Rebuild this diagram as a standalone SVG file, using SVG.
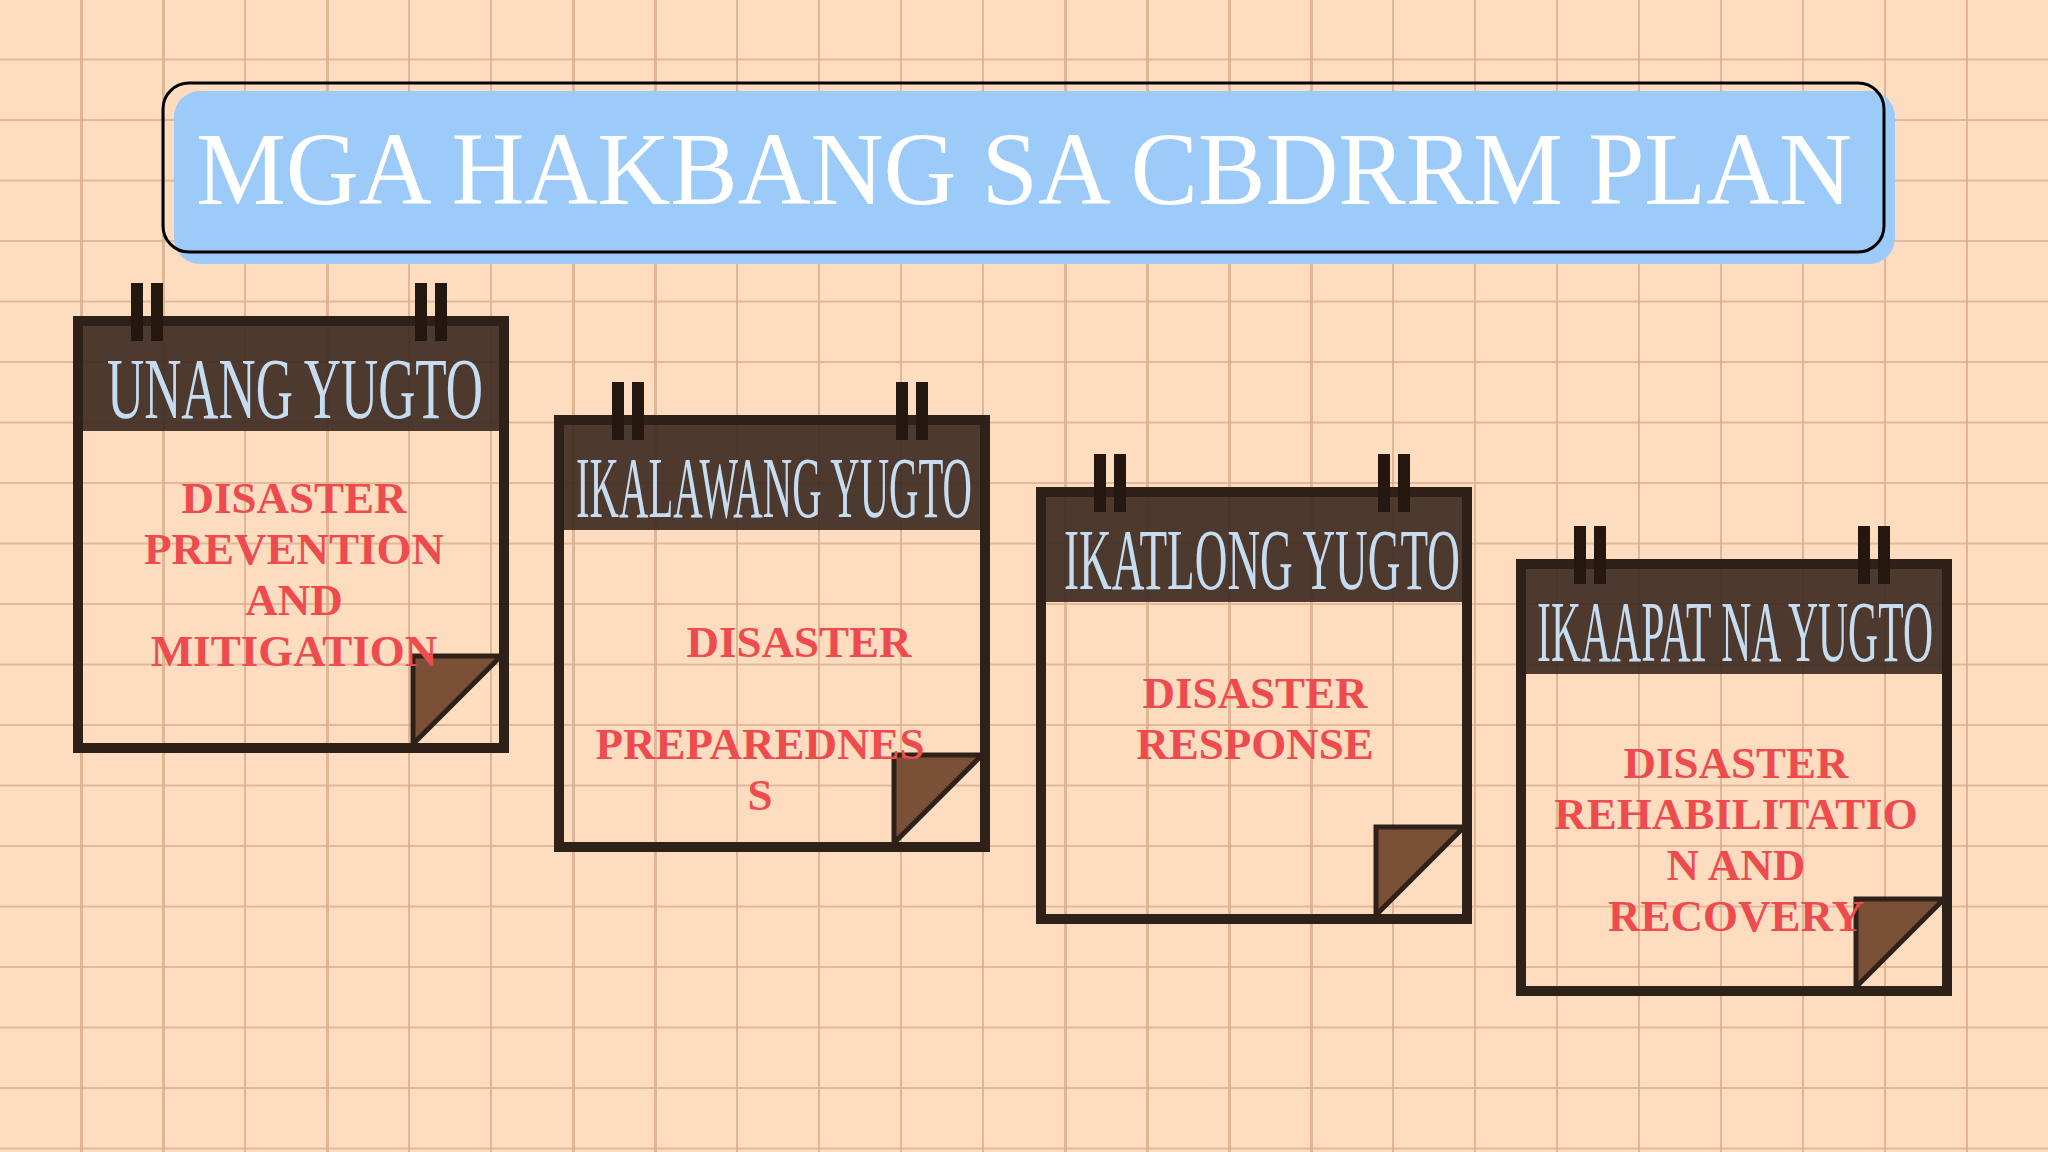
<svg xmlns="http://www.w3.org/2000/svg" width="2048" height="1152" viewBox="0 0 2048 1152">
<defs>
<pattern id="grid" x="0" y="0" width="82" height="60.5" patternUnits="userSpaceOnUse">
<path d="M81 0V60.5M0 59.5H82" stroke="#d9ad8c" stroke-width="1.6" fill="none"/>
</pattern>
<g id="card">
<rect x="5" y="5" width="426" height="110" fill="#3f2c22" fill-opacity="0.93"/>
<rect x="5" y="5" width="426" height="427" fill="none" stroke="#2e211a" stroke-width="10"/>
<rect x="58" y="-33" width="12" height="58" fill="#23170f"/>
<rect x="78" y="-33" width="12" height="58" fill="#23170f"/>
<rect x="342" y="-33" width="12" height="58" fill="#23170f"/>
<rect x="362" y="-33" width="12" height="58" fill="#23170f"/>
<polygon points="340,340 428,340 340,428" fill="#7a5036"/>
<path d="M340,428 V340 H428 M428,340 L340,428" stroke="#2e211a" stroke-width="5" fill="none"/>
</g>
</defs>
<style>
.hd{font-family:"Liberation Serif",serif;font-size:86px;fill:#c6dcf0;text-anchor:middle}
.bd{font-family:"Liberation Serif",serif;font-weight:bold;font-size:45px;fill:#ee4b4f;text-anchor:middle}
</style>
<rect width="2048" height="1152" fill="#fddcbf"/>
<rect width="2048" height="1152" fill="url(#grid)"/>
<g id="title">
<rect x="174" y="91" width="1721" height="173" rx="26" fill="#9ccaf9"/>
<rect x="163" y="83" width="1721" height="169" rx="26" fill="none" stroke="#000" stroke-width="3"/>
<text x="1024" y="204" font-family="Liberation Serif, serif" font-size="104" fill="#fff" text-anchor="middle" textLength="1656" lengthAdjust="spacingAndGlyphs">MGA HAKBANG SA CBDRRM PLAN</text>
</g>
<g id="card1" transform="translate(73,316)">
<use href="#card"/>
<text class="hd" x="222" y="102" textLength="376" lengthAdjust="spacingAndGlyphs">UNANG YUGTO</text>
<text class="bd" x="221" y="197">DISASTER</text>
<text class="bd" x="221" y="248">PREVENTION</text>
<text class="bd" x="221" y="299">AND</text>
<text class="bd" x="221" y="350">MITIGATION</text>
</g>
<g id="card2" transform="translate(554,415)">
<use href="#card"/>
<text class="hd" x="220" y="102" textLength="396" lengthAdjust="spacingAndGlyphs">IKALAWANG YUGTO</text>
<text class="bd" x="245" y="242">DISASTER</text>
<text class="bd" x="206" y="344">PREPAREDNES</text>
<text class="bd" x="206" y="395">S</text>
</g>
<g id="card3" transform="translate(1036,487)">
<use href="#card"/>
<text class="hd" x="226" y="102" textLength="396" lengthAdjust="spacingAndGlyphs">IKATLONG YUGTO</text>
<text class="bd" x="219" y="221">DISASTER</text>
<text class="bd" x="219" y="272">RESPONSE</text>
</g>
<g id="card4" transform="translate(1516,559)">
<use href="#card"/>
<text class="hd" x="219" y="102" textLength="396" lengthAdjust="spacingAndGlyphs">IKAAPAT NA YUGTO</text>
<text class="bd" x="220" y="219">DISASTER</text>
<text class="bd" x="220" y="270">REHABILITATIO</text>
<text class="bd" x="220" y="321">N AND</text>
<text class="bd" x="220" y="372">RECOVERY</text>
</g>
<g id="connectors"/>
</svg>
